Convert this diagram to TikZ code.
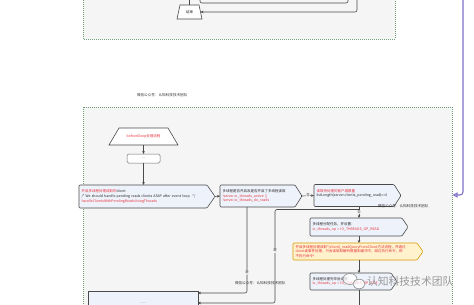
\documentclass[tikz,border=0pt]{standalone}
\usepackage{fontspec}
\setmainfont{Noto Sans CJK SC}
\usetikzlibrary{arrows.meta,backgrounds}
\definecolor{cont}{HTML}{F5F5F5}
\definecolor{contb}{HTML}{6E9E78}
\definecolor{chfill}{HTML}{EEF3FB}
\definecolor{ylfill}{HTML}{FFF2CC}
\definecolor{yldraw}{HTML}{D79B00}
\definecolor{rd}{HTML}{E8303A}
\definecolor{purp}{HTML}{8070C8}
\definecolor{ln}{HTML}{4A4A4A}
\newcommand\rtxt[1]{\textcolor{rd}{#1}}
\newcommand\chevbg[4]{%
  \begin{pgfonlayer}{background}
  \filldraw[fill=#3, draw=#4, line width=0.6pt, rounded corners=1pt]
    (#1.north west) -- ([xshift=-#2]#1.north east) -- (#1.east)
    -- ([xshift=-#2]#1.south east) -- (#1.south west) -- cycle;
  \end{pgfonlayer}}
\newcommand\trapbg[2]{%
  \begin{pgfonlayer}{background}
  \filldraw[fill=white, draw=ln, line width=0.6pt]
    ([xshift=#2]#1.north west) -- ([xshift=-#2]#1.north east)
    -- (#1.south east) -- (#1.south west) -- cycle;
  \end{pgfonlayer}}
\begin{document}
\begin{tikzpicture}[x=1pt,y=-1pt,
  every node/.style={inner sep=0pt, outer sep=0pt},
  txt/.style={font=\fontsize{3.5}{4.6}\selectfont, text=black!85},
  cbox/.style={txt, rectangle, align=left, inner sep=1.5pt},
  contst/.style={fill=cont, draw=contb, line width=0.8pt, dash pattern=on 0.8pt off 1.2pt},
  lnst/.style={draw=ln, line width=0.6pt},
  arr/.style={lnst, -{Stealth[length=3pt,width=2.6pt]}},
  lbl/.style={txt, fill=white, inner sep=0.6pt},
  wm/.style={font=\fontsize{3.6}{4}\selectfont, text=black!80, anchor=west},
]
\useasboundingbox (0,0) rectangle (474,305);
% containers
\begin{pgfonlayer}{background}
\draw[contst] (83,-10) rectangle (395,39);
\draw[contst] (83,107) rectangle (452,320);
\end{pgfonlayer}

% top part
\node[txt, minimum width=25pt, minimum height=14pt] (tend) at (189.5,12) {结束};
\trapbg{tend}{3pt}
\coordinate (t0) at (189.5,-2);
\coordinate (t1) at (200,-2);
\coordinate (t12) at (348,3);
\coordinate (t2) at (348,-2);
\coordinate (t3) at (357,-2);
\draw[lnst] (t0) -- (tend.north);
\draw[lnst, rounded corners=2pt] (t1) |- (t12) -- (t2);
\draw[arr, rounded corners=2pt] (t3) |- ([xshift=-1.5pt]tend.east);

% purple connector
\coordinate (p0) at (463,-2);
\coordinate (pin) at (452.5,195);
\draw[draw=purp, line width=1.1pt, rounded corners=3pt,
  -{Triangle[open, length=5pt, width=5pt]}] (p0) |- (pin);

% lower flow
\node[txt, text=rd, minimum width=69pt, minimum height=17pt] (tb) at (143.5,136.5) {beforeSleep处理流程};
\trapbg{tb}{10pt}
\node[txt, draw=ln!80, fill=white, rounded corners=1.5pt, line width=0.5pt,
  minimum width=33pt, minimum height=9pt] (dots) at (143.5,158.5) {...};

\node[cbox, minimum width=136pt, minimum height=23pt, text width=131pt] (c1) at (147,196.5)
  {\rtxt{开启多线程处理读取的}client\\
   /* We should handle pending reads clients ASAP after event loop. */\\
   \rtxt{handleClientsWithPendingReadsUsingThreads}};
\chevbg{c1}{8pt}{chfill}{ln}

\node[cbox, minimum width=82pt, minimum height=22pt, text width=77pt] (c2) at (261,196)
  {多线程是否开启及是否开启了多线程读取\\
   \rtxt{!server.io\_threads\_active ||}\\
   \rtxt{!server.io\_threads\_do\_reads}};
\chevbg{c2}{7pt}{chfill}{ln}

\node[cbox, minimum width=87pt, minimum height=22pt, text width=82pt] (c3) at (357.5,195.5)
  {\rtxt{读取待处理的客户端数量}\\
   listLength(server.clients\_pending\_read)==0\\ \mbox{}};
\chevbg{c3}{7pt}{chfill}{ln}

\node[cbox, minimum width=98pt, minimum height=18pt, text width=93pt] (c4) at (359,227)
  {多线程分配任务，并设置：\\
   \rtxt{io\_threads\_op = IO\_THREADS\_OP\_READ}};
\chevbg{c4}{6pt}{chfill}{ln}

\node[cbox, minimum width=130pt, minimum height=17pt, text width=125pt, text=rd] (c5) at (358,251.5)
  {开启多线程处理读取*(client)\_readQueryFromClient方法流程，并通过\\
   client读事件处理，只会读取和解析数据到缓冲中，跳过执行命令，即\\
   不执行命令！};
\chevbg{c5}{6pt}{ylfill}{yldraw}

\node[cbox, minimum width=87pt, minimum height=17pt, text width=82pt] (c6) at (353.5,281.5)
  {多线程处理完毕后设置：\\
   \rtxt{io\_threads\_op = IO\_THREADS\_OP\_IDLE}};
\chevbg{c6}{6pt}{chfill}{ln}

\node[txt, text=ln, draw=ln, fill=chfill, line width=0.6pt,
  minimum width=110pt, minimum height=24pt] (bot) at (143,303) {......};

% connectors
\draw[arr] (tb.south) -- (dots.north);
\draw[arr] (dots.south) -- (dots.south |- c1.north);
\draw[arr] (c1.east) -- (c2.west);
\draw[arr] (c2.east) -- node[lbl]{否} (c3.west);
\draw[arr, rounded corners=2pt] ([xshift=27pt]c2.south west) |- node[lbl, pos=0.38]{是} ([yshift=-2pt]bot.north east);
\coordinate (sp) at (c3.south -| c4.north);
\coordinate (jl) at (275,303);
\draw[arr] (sp) -- node[lbl]{否} (c4.north);
\draw[arr, rounded corners=2pt] ([yshift=-3pt]sp) -| node[lbl, pos=0.72]{是} (jl) -- (bot.east |- jl);
\draw[arr] (c4.south) -- (c4.south |- c5.north);
\draw[arr] (c5.south -| c4.south) -- (c6.north -| c4.south);
\coordinate (bt) at (359,310);
\draw[lnst] (c6.south -| c4.south) -- (bt);

% watermarks
\node[wm] (w1) at (137,95) {微信公众号：认知科技技术团队};
\node[wm] (w2) at (235,283) {微信公众号：认知科技技术团队};
\node[wm] (w3) at (378,206.5) {微信公众号：认知科技技术团队};
\filldraw[draw=black!45, fill=white, fill opacity=0.7, line width=0.6pt] (350,279) ellipse (7 and 5.5);
\filldraw[draw=black!45, fill=white, fill opacity=0.7, line width=0.6pt] (359,284) ellipse (6 and 4.8);
\node[font=\fontsize{10.8}{12}\selectfont, text=black!40, anchor=west] (wbig) at (367,281) {认知科技技术团队};
\end{tikzpicture}
\end{document}
